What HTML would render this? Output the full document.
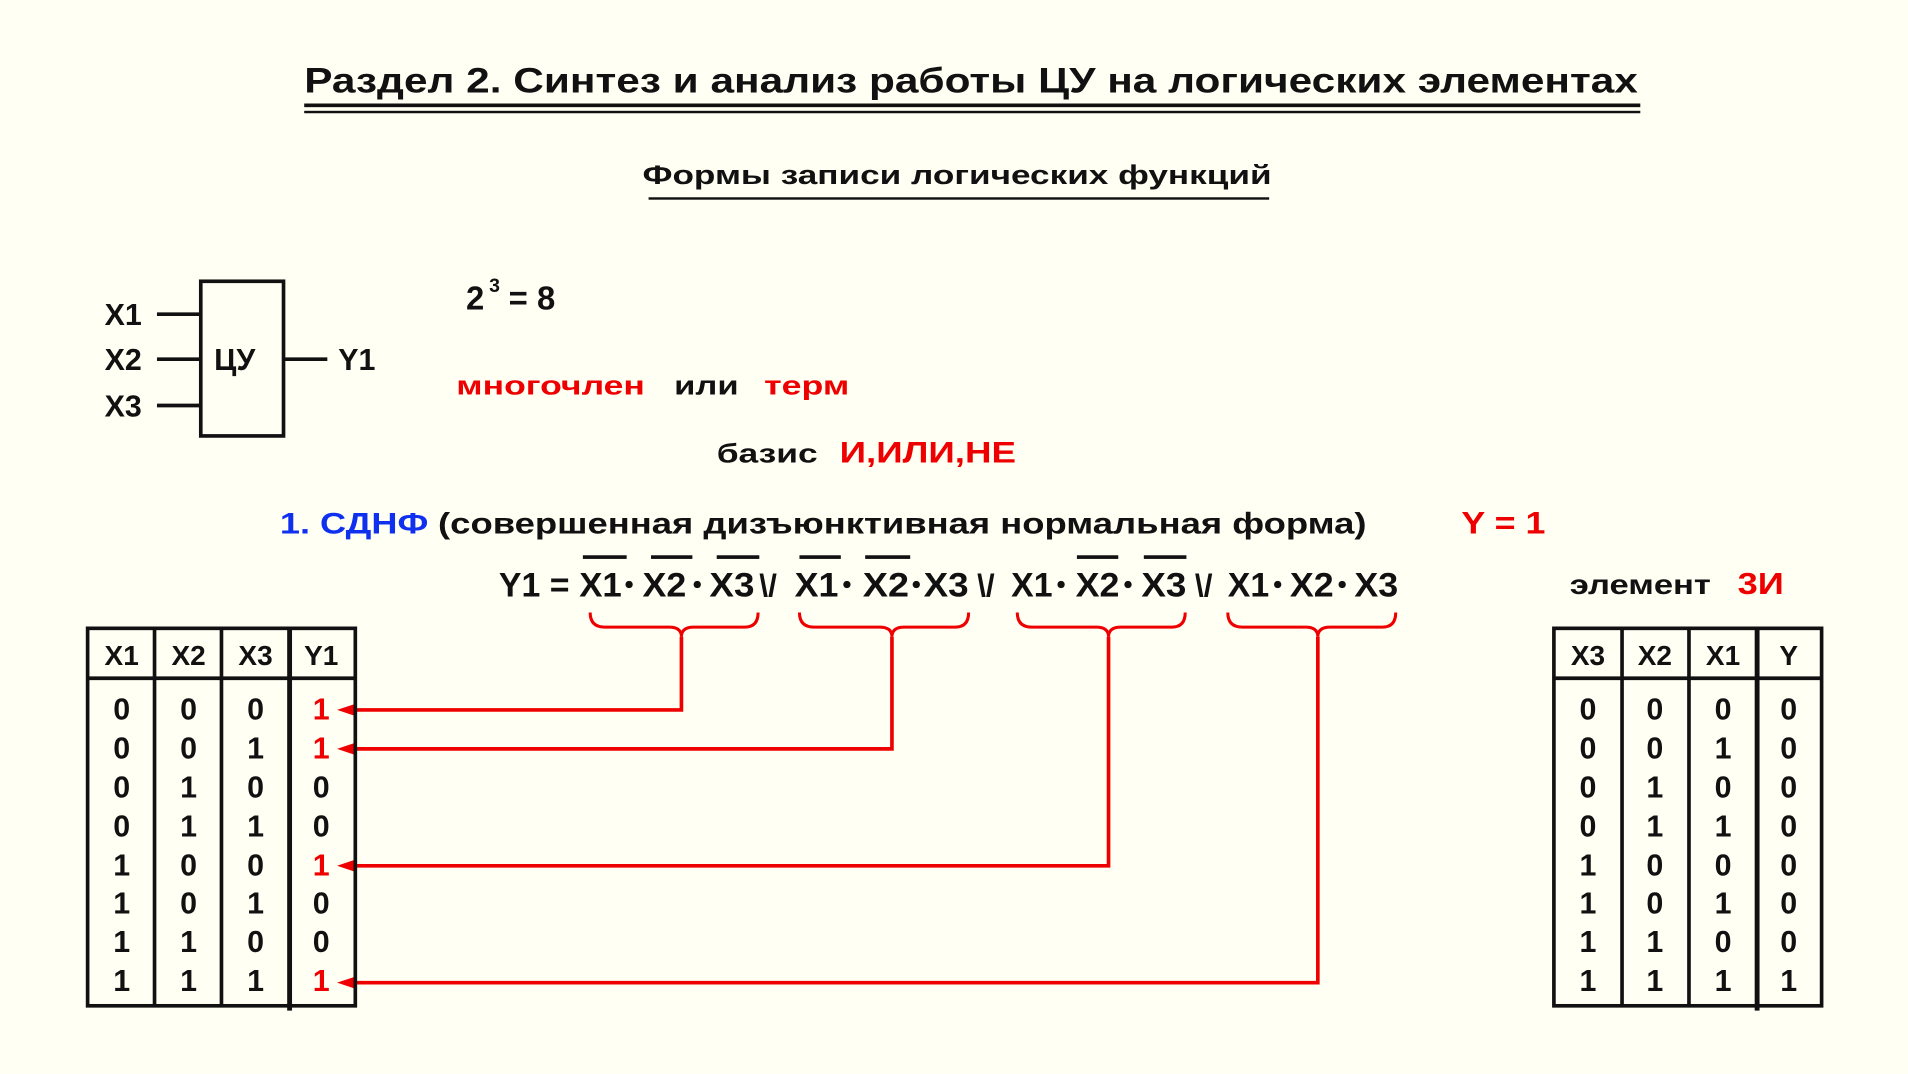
<!DOCTYPE html>
<html><head><meta charset="utf-8"><style>
html,body{margin:0;padding:0;background:#fffff4;}
svg{display:block}
text{font-family:"Liberation Sans",sans-serif;font-weight:bold}
</style></head><body>
<svg width="1908" height="1074" viewBox="0 0 1568 882" xmlns="http://www.w3.org/2000/svg" preserveAspectRatio="none">
<rect width="1568" height="882" fill="#fffff4"/>
<!-- Title -->
<text x="250" y="76" font-size="29" textLength="1096" lengthAdjust="spacingAndGlyphs" fill="#111">Раздел 2. Синтез и анализ работы ЦУ на логических элементах</text>
<rect x="250" y="85" width="1098" height="3" fill="#111"/>
<rect x="250" y="91" width="1098" height="2" fill="#111"/>
<text x="528" y="151" font-size="22" textLength="517" lengthAdjust="spacingAndGlyphs" fill="#111">Формы записи логических функций</text>
<rect x="533" y="162" width="510" height="2" fill="#111"/>

<!-- block -->
<g fill="#111" font-size="25">
<text x="86" y="267">X1</text><text x="86" y="304">X2</text><text x="86" y="342">X3</text>
<text x="176" y="304">ЦУ</text><text x="278" y="304" font-weight="normal">Y1</text>
</g>
<rect x="165" y="231" width="68" height="127" fill="none" stroke="#111" stroke-width="3"/>
<g stroke="#111" stroke-width="3">
<line x1="129" y1="258" x2="165" y2="258"/><line x1="129" y1="295" x2="165" y2="295"/><line x1="129" y1="333" x2="165" y2="333"/><line x1="233" y1="295" x2="269" y2="295"/>
</g>
<text x="383" y="254" font-size="27" fill="#111">2</text>
<text x="402" y="240" font-size="16" fill="#111">3</text>
<text x="418" y="254" font-size="27" fill="#111">= 8</text>

<text x="375" y="324" font-size="22" fill="#e00" textLength="155" lengthAdjust="spacingAndGlyphs">многочлен</text>
<text x="554" y="324" font-size="22" fill="#111" textLength="53" lengthAdjust="spacingAndGlyphs">или</text>
<text x="628" y="324" font-size="22" fill="#e00" textLength="70" lengthAdjust="spacingAndGlyphs">терм</text>
<text x="589" y="380" font-size="22" fill="#111" textLength="83" lengthAdjust="spacingAndGlyphs">базис</text>
<text x="690" y="380" font-size="24" fill="#e00" textLength="145" lengthAdjust="spacingAndGlyphs">И,ИЛИ,НЕ</text>

<text x="230" y="438" font-size="24" fill="#1030f0" textLength="122" lengthAdjust="spacingAndGlyphs">1. СДНФ</text>
<text x="360" y="438" font-size="24" fill="#111" textLength="763" lengthAdjust="spacingAndGlyphs">(совершенная дизъюнктивная нормальная форма)</text>
<text x="1201" y="438" font-size="26" fill="#e00" textLength="69" lengthAdjust="spacingAndGlyphs">Y = 1</text>

<!-- formula -->
<g font-size="28" fill="#111">
<text x="410" y="490" textLength="58" lengthAdjust="spacingAndGlyphs">Y1 =</text>
<text x="476" y="490" textLength="35" lengthAdjust="spacingAndGlyphs">X1</text>
<text x="528" y="490" textLength="36" lengthAdjust="spacingAndGlyphs">X2</text>
<text x="583" y="490" textLength="37" lengthAdjust="spacingAndGlyphs">X3</text>
<text x="653" y="490" textLength="36" lengthAdjust="spacingAndGlyphs">X1</text>
<text x="709" y="490" textLength="38" lengthAdjust="spacingAndGlyphs">X2</text>
<text x="759" y="490" textLength="37" lengthAdjust="spacingAndGlyphs">X3</text>
<text x="831" y="490" textLength="34" lengthAdjust="spacingAndGlyphs">X1</text>
<text x="884" y="490" textLength="36" lengthAdjust="spacingAndGlyphs">X2</text>
<text x="938" y="490" textLength="37" lengthAdjust="spacingAndGlyphs">X3</text>
<text x="1009" y="490" textLength="34" lengthAdjust="spacingAndGlyphs">X1</text>
<text x="1060" y="490" textLength="36" lengthAdjust="spacingAndGlyphs">X2</text>
<text x="1113" y="490" textLength="36" lengthAdjust="spacingAndGlyphs">X3</text>
<g font-weight="normal" font-size="26"><text x="624" y="490">\/</text><text x="803" y="490">\/</text><text x="982" y="490">\/</text></g>
</g>
<g fill="#111">
<circle cx="517" cy="480" r="3"/><circle cx="573" cy="480" r="3"/><circle cx="696" cy="480" r="3"/><circle cx="753" cy="480" r="3"/>
<circle cx="872" cy="480" r="3"/><circle cx="927" cy="480" r="3"/><circle cx="1050" cy="480" r="3"/><circle cx="1103" cy="480" r="3"/>
<rect x="479" y="456" width="36" height="3"/><rect x="535" y="456" width="34" height="3"/><rect x="589" y="456" width="35" height="3"/>
<rect x="657" y="456" width="34" height="3"/><rect x="711" y="456" width="37" height="3"/>
<rect x="885" y="456" width="34" height="3"/><rect x="940" y="456" width="35" height="3"/>
</g>
<text x="1290" y="488" font-size="23" fill="#111" textLength="116" lengthAdjust="spacingAndGlyphs">элемент</text>
<text x="1428" y="488" font-size="25" fill="#e00" textLength="38" lengthAdjust="spacingAndGlyphs">3И</text>

<!-- braces and connectors -->
<g fill="none" stroke="#e00" stroke-width="2.5">
<path d="M485 503 Q485 515 497 515 L550 515 Q560 515 560 523 Q560 515 570 515 L612 515 Q623 515 623 503"/>
<path d="M657 503 Q657 515 669 515 L723 515 Q733 515 733 523 Q733 515 743 515 L785 515 Q796 515 796 503"/>
<path d="M836 503 Q836 515 848 515 L901 515 Q911 515 911 523 Q911 515 921 515 L963 515 Q974 515 974 503"/>
<path d="M1009 503 Q1009 515 1021 515 L1073 515 Q1083 515 1083 523 Q1083 515 1093 515 L1136 515 Q1147 515 1147 503"/>
</g>
<g fill="none" stroke="#e00" stroke-width="3">
<polyline points="560,523 560,583 285,583"/>
<polyline points="733,523 733,615 285,615"/>
<polyline points="911,523 911,711 285,711"/>
<polyline points="1083,523 1083,807 285,807"/>
</g>
<g fill="#e00">
<polygon points="277,583 292,578 292,588"/><polygon points="277,615 292,610 292,620"/><polygon points="277,711 292,706 292,716"/><polygon points="277,807 292,802 292,812"/>
</g>

<!-- left table -->
<g fill="none" stroke="#111" stroke-width="3">
<rect x="72" y="516" width="220" height="310"/>
<line x1="72" y1="557" x2="292" y2="557"/>
<line x1="127" y1="516" x2="127" y2="826"/><line x1="182" y1="516" x2="182" y2="826"/>
<line x1="238" y1="516" x2="238" y2="830" stroke-width="4"/>
</g>
<g font-size="23" fill="#111" text-anchor="middle">
<text x="100" y="546">X1</text><text x="155" y="546">X2</text><text x="210" y="546">X3</text><text x="264" y="546" font-weight="normal">Y1</text>
</g>
<g font-size="25" fill="#111" text-anchor="middle">
<text x="100" y="591">0</text><text x="155" y="591">0</text><text x="210" y="591">0</text><text x="264" y="591" fill="#e00" font-weight="normal">1</text>
<text x="100" y="623">0</text><text x="155" y="623">0</text><text x="210" y="623">1</text><text x="264" y="623" fill="#e00" font-weight="normal">1</text>
<text x="100" y="655">0</text><text x="155" y="655">1</text><text x="210" y="655">0</text><text x="264" y="655">0</text>
<text x="100" y="687">0</text><text x="155" y="687">1</text><text x="210" y="687">1</text><text x="264" y="687">0</text>
<text x="100" y="719">1</text><text x="155" y="719">0</text><text x="210" y="719">0</text><text x="264" y="719" fill="#e00" font-weight="normal">1</text>
<text x="100" y="750">1</text><text x="155" y="750">0</text><text x="210" y="750">1</text><text x="264" y="750">0</text>
<text x="100" y="782">1</text><text x="155" y="782">1</text><text x="210" y="782">0</text><text x="264" y="782">0</text>
<text x="100" y="814">1</text><text x="155" y="814">1</text><text x="210" y="814">1</text><text x="264" y="814" fill="#e00" font-weight="normal">1</text>
</g>

<!-- right table -->
<g fill="none" stroke="#111" stroke-width="3">
<rect x="1277" y="516" width="220" height="310"/>
<line x1="1277" y1="557" x2="1497" y2="557"/>
<line x1="1333" y1="516" x2="1333" y2="826"/><line x1="1388" y1="516" x2="1388" y2="826"/>
<line x1="1444" y1="516" x2="1444" y2="830" stroke-width="4"/>
</g>
<g font-size="23" fill="#111" text-anchor="middle">
<text x="1305" y="546">X3</text><text x="1360" y="546">X2</text><text x="1416" y="546">X1</text><text x="1470" y="546">Y</text>
</g>
<g font-size="25" fill="#111" text-anchor="middle">
<text x="1305" y="591">0</text><text x="1360" y="591">0</text><text x="1416" y="591">0</text><text x="1470" y="591">0</text>
<text x="1305" y="623">0</text><text x="1360" y="623">0</text><text x="1416" y="623">1</text><text x="1470" y="623">0</text>
<text x="1305" y="655">0</text><text x="1360" y="655">1</text><text x="1416" y="655">0</text><text x="1470" y="655">0</text>
<text x="1305" y="687">0</text><text x="1360" y="687">1</text><text x="1416" y="687">1</text><text x="1470" y="687">0</text>
<text x="1305" y="719">1</text><text x="1360" y="719">0</text><text x="1416" y="719">0</text><text x="1470" y="719">0</text>
<text x="1305" y="750">1</text><text x="1360" y="750">0</text><text x="1416" y="750">1</text><text x="1470" y="750">0</text>
<text x="1305" y="782">1</text><text x="1360" y="782">1</text><text x="1416" y="782">0</text><text x="1470" y="782">0</text>
<text x="1305" y="814">1</text><text x="1360" y="814">1</text><text x="1416" y="814">1</text><text x="1470" y="814">1</text>
</g>
</svg>
</body></html>
